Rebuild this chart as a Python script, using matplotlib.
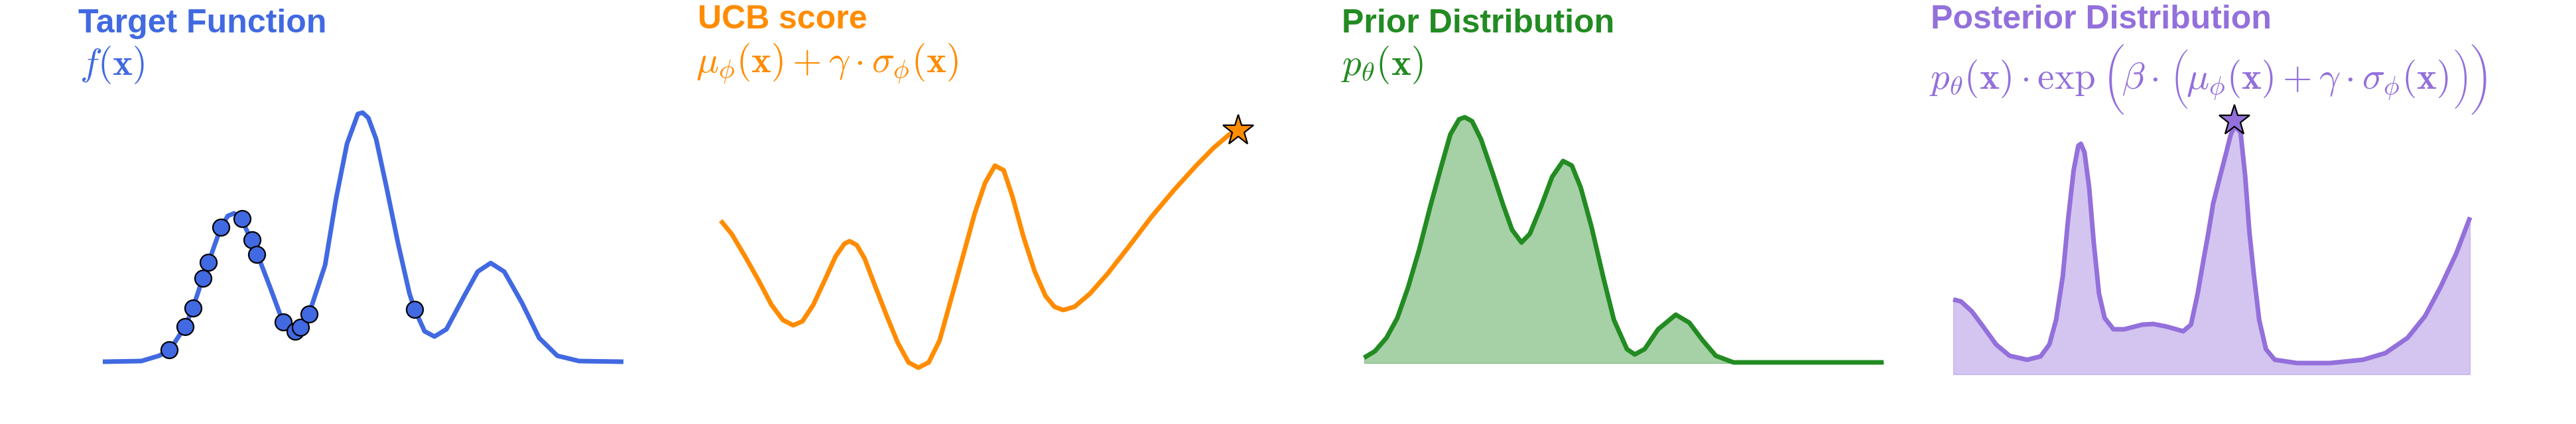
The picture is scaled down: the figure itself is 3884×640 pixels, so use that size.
import os
import numpy as np
import matplotlib
import matplotlib.pyplot as plt
from matplotlib.font_manager import FontProperties
from matplotlib.textpath import TextPath

plt.rcParams['mathtext.fontset'] = 'cm'

# ---- data ----
# target function f(x)
target_x = [0.00, 0.74, 1.08, 1.29, 1.58, 1.73, 1.92, 2.03, 2.27, 2.40, 2.52, 2.66, 2.85, 2.97,
            3.21, 3.46, 3.62, 3.69, 3.80, 3.96, 4.27, 4.48, 4.69, 4.90, 4.99, 5.10, 5.25, 5.45,
            5.67, 5.89, 5.99, 6.18, 6.37, 6.60, 6.94, 7.20, 7.45, 7.71, 8.05, 8.38, 8.73, 9.15, 10.0]
target_y = [0.00, 0.01, 0.09, 0.18, 0.53, 0.81, 1.26, 1.50, 2.03, 2.20, 2.24, 2.16, 1.84, 1.62,
            1.13, 0.60, 0.44, 0.45, 0.52, 0.72, 1.46, 2.46, 3.29, 3.74, 3.76, 3.68, 3.36, 2.63,
            1.79, 1.03, 0.79, 0.46, 0.38, 0.49, 0.99, 1.36, 1.49, 1.36, 0.89, 0.36, 0.09, 0.01, 0.00]

# observed samples
sample_x = [1.28, 1.58, 1.73, 1.92, 2.03, 2.27, 2.67, 2.86, 2.96, 3.46, 3.69, 3.80, 3.96, 5.99]
sample_y = [0.18, 0.53, 0.81, 1.26, 1.50, 2.03, 2.16, 1.84, 1.62, 0.60, 0.46, 0.52, 0.72, 0.79]

# UCB score
ucb_x = [0.00, 0.21, 0.47, 0.73, 0.98, 1.20, 1.40, 1.58, 1.79, 2.01, 2.22, 2.39, 2.49, 2.63,
         2.78, 2.99, 3.21, 3.42, 3.63, 3.82, 4.02, 4.23, 4.44, 4.66, 4.91, 5.11, 5.30, 5.47,
         5.64, 5.85, 6.07, 6.28, 6.45, 6.62, 6.84, 7.14, 7.48, 7.91, 8.33, 8.76, 9.19, 9.53,
         9.83, 10.0]
ucb_y = [2.67, 2.47, 2.13, 1.77, 1.40, 1.17, 1.09, 1.15, 1.40, 1.77, 2.13, 2.32, 2.36, 2.30,
         2.10, 1.67, 1.23, 0.83, 0.53, 0.45, 0.53, 0.86, 1.45, 2.07, 2.78, 3.24, 3.50, 3.43,
         3.03, 2.43, 1.90, 1.53, 1.37, 1.32, 1.37, 1.57, 1.87, 2.30, 2.73, 3.13, 3.50, 3.77,
         3.97, 4.03]
ucb_star_x = [10.0]
ucb_star_y = [4.03]

# prior p_theta(x)
prior_x = [0.00, 0.21, 0.43, 0.64, 0.85, 1.06, 1.28, 1.49, 1.66, 1.83, 1.94, 2.08, 2.25, 2.47,
           2.68, 2.85, 3.03, 3.19, 3.40, 3.62, 3.83, 4.00, 4.17, 4.38, 4.60, 4.81, 5.06, 5.21,
           5.40, 5.66, 6.00, 6.26, 6.51, 6.77, 7.11, 8.21, 10.0]
prior_y = [0.08, 0.18, 0.38, 0.68, 1.15, 1.71, 2.38, 2.98, 3.45, 3.68, 3.71, 3.65, 3.38, 2.88,
           2.38, 2.01, 1.82, 1.95, 2.35, 2.81, 3.05, 2.98, 2.65, 2.05, 1.31, 0.65, 0.21, 0.13,
           0.21, 0.51, 0.73, 0.61, 0.35, 0.11, 0.01, 0.01, 0.01]

# posterior
post_x = [0.00, 0.15, 0.36, 0.58, 0.83, 1.09, 1.43, 1.69, 1.86, 1.99, 2.12, 2.22, 2.33, 2.42,
          2.47, 2.54, 2.63, 2.72, 2.82, 2.93, 3.10, 3.31, 3.66, 3.87, 4.13, 4.45, 4.60, 4.73,
          4.85, 4.94, 5.03, 5.16, 5.26, 5.37, 5.45, 5.56, 5.65, 5.73, 5.82, 5.92, 6.05, 6.22,
          6.65, 7.29, 7.93, 8.36, 8.79, 9.13, 9.43, 9.73, 10.0]
post_y = [1.13, 1.10, 0.95, 0.72, 0.45, 0.28, 0.22, 0.27, 0.45, 0.82, 1.48, 2.32, 3.08, 3.45,
          3.48, 3.35, 2.82, 1.98, 1.22, 0.85, 0.68, 0.68, 0.75, 0.76, 0.72, 0.65, 0.75, 1.22,
          1.76, 2.15, 2.58, 2.98, 3.28, 3.62, 3.75, 3.65, 2.98, 2.15, 1.48, 0.82, 0.38, 0.22,
          0.17, 0.17, 0.22, 0.32, 0.55, 0.88, 1.32, 1.82, 2.37]
post_star_x = [5.44]
post_star_y = [3.83]

titles = ['Target Function', 'UCB score', 'Prior Distribution', 'Posterior Distribution']
formulas = [r'$f(\mathbf{x})$',
            r'$\mu_\phi(\mathbf{x}) + \gamma \cdot \sigma_\phi(\mathbf{x})$',
            r'$p_\theta(\mathbf{x})$']
# posterior formula, split so the outer brackets can be drawn large
post_parts = [r'$p_\theta(\mathbf{x}) \cdot \exp$', r'$\beta \cdot$',
              r'$\mu_\phi(\mathbf{x}) + \gamma \cdot \sigma_\phi(\mathbf{x})$']
colors = ['royalblue', 'darkorange', 'forestgreen', 'mediumpurple']

# ---- layout (pixels of the 3884x640 canvas) ----
W, H = 3884, 640
panels = [(155, 940, -0.54), (1086.7, 1866.7, 0.0), (2056.7, 2840, -0.52), (2945, 3724.3, -0.35)]
title_pos = [(118, 49), (1052, 43), (2023, 49), (2911, 43)]
formula_pos = [(120, 113), (1049, 109), (2022, 113)]
post_parts_pos = [(2909, 134), (3199, 134), (3296, 134)]
# (char, left px, top px, bottom px) of the big brackets
post_brackets = [('\xb5', 3171, 66, 173), ('\xb5', 3272, 76, 163),
                 ('\xb6', 3700, 76, 163), ('\xb6', 3724, 66, 173)]

title_fs = 36
math_fs = 41

fig = plt.figure(figsize=(W / 100, H / 100), dpi=100)

axes = []
for left, right, ymin in panels:
    ax = fig.add_axes([left / W, 40 / H, (right - left) / W, 500 / H])
    ax.set_xlim(0, 10)
    ax.set_ylim(ymin, ymin + 5)
    ax.axis('off')
    axes.append(ax)

lw = 5
ax1, ax2, ax3, ax4 = axes

ax1.plot(target_x, target_y, color=colors[0], lw=lw, solid_capstyle='butt', clip_on=False)
ax1.plot(sample_x, sample_y, 'o', ms=18, mfc=colors[0], mec='black', mew=1.6, clip_on=False, zorder=3)

ax2.plot(ucb_x, ucb_y, color=colors[1], lw=lw, solid_capstyle='butt', clip_on=False)
ax2.plot(ucb_star_x, ucb_star_y, '*', ms=35, mfc=colors[1], mec='black', mew=1.6, clip_on=False, zorder=3)

ax3.fill_between(prior_x, prior_y, 0, color=colors[2], alpha=0.4, lw=1)
ax3.plot(prior_x, prior_y, color=colors[2], lw=lw, solid_capstyle='butt', clip_on=False)

ax4.fill_between(post_x, post_y, 0, color=colors[3], alpha=0.4, lw=1)
ax4.plot(post_x, post_y, color=colors[3], lw=lw, solid_capstyle='butt', clip_on=False)
ax4.plot(post_star_x, post_star_y, '*', ms=35, mfc=colors[3], mec='black', mew=1.6, clip_on=False, zorder=3)

for i in range(4):
    tx, ty = title_pos[i]
    fig.text(tx / W, 1 - ty / H, titles[i], color=colors[i], fontsize=title_fs, fontweight='bold',
             family=['Liberation Sans', 'DejaVu Sans'], va='baseline', ha='left')

for i in range(3):
    fx, fy = formula_pos[i]
    fig.text(fx / W, 1 - fy / H, formulas[i], color=colors[i], fontsize=math_fs, va='baseline', ha='left')

for part, (fx, fy) in zip(post_parts, post_parts_pos):
    fig.text(fx / W, 1 - fy / H, part, color=colors[3], fontsize=math_fs, va='baseline', ha='left')

# big brackets from the Computer Modern extension font
cmex_file = os.path.join(matplotlib.get_data_path(), 'fonts', 'ttf', 'cmex10.ttf')
for ch, bx, top, bot in post_brackets:
    fp = FontProperties(fname=cmex_file)
    ext = TextPath((0, 0), ch, size=1, prop=fp).get_extents()
    em = (bot - top) / ext.height
    fp.set_size(em * 72 / 100)
    base = (top + bot) / 2 + (ext.y0 + ext.y1) / 2 * em
    fig.text(bx / W, 1 - base / H, ch, fontproperties=fp, color=colors[3], va='baseline', ha='left')

fig.savefig('out.png', dpi=100)
